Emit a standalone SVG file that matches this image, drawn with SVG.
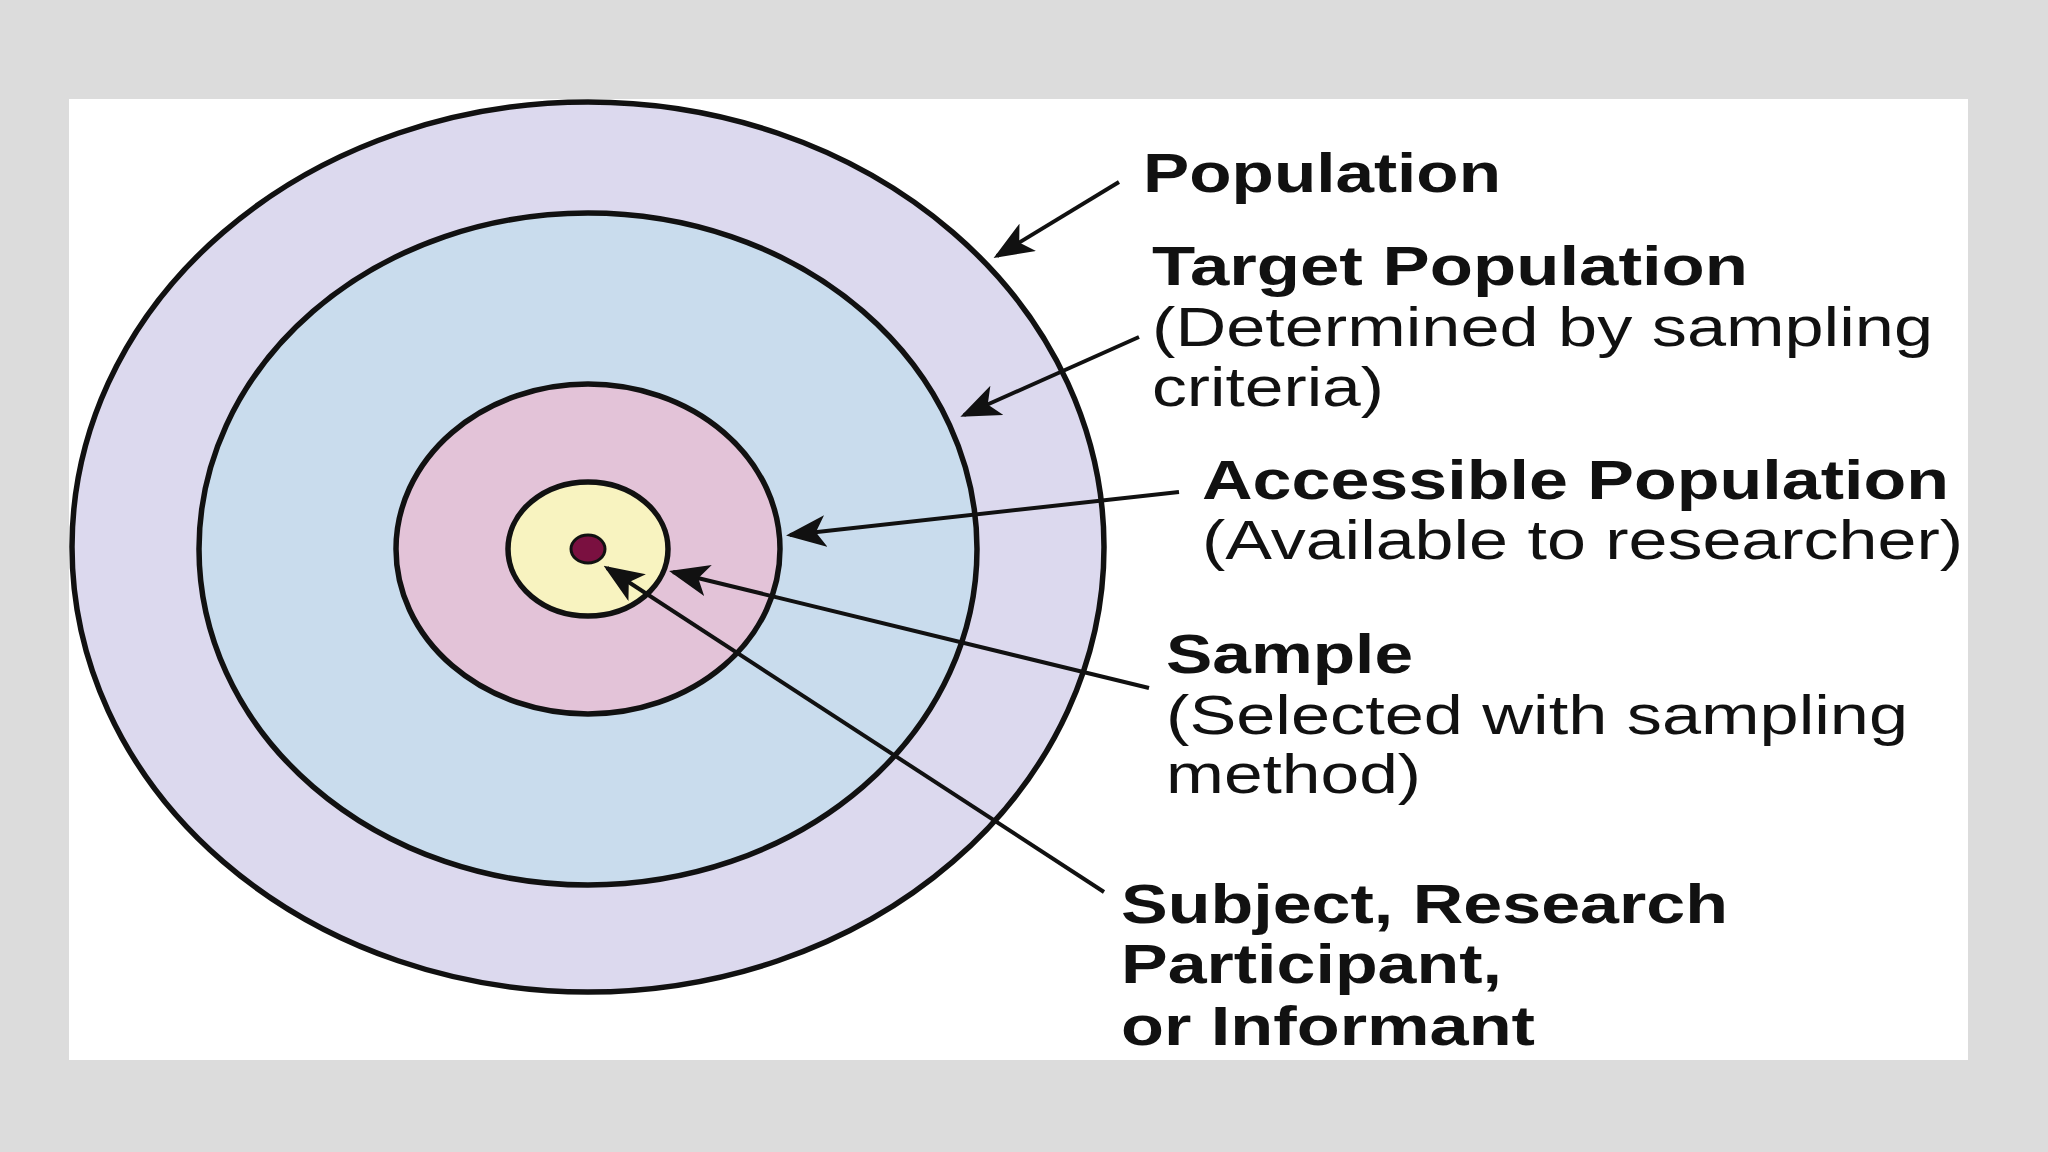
<svg xmlns="http://www.w3.org/2000/svg" width="2048" height="1152" viewBox="0 0 2048 1152">
<style>
.ring{stroke:#111;stroke-width:5.5}
.b{font-family:"Liberation Sans",Arial,sans-serif;font-weight:bold;font-size:56px;fill:#111}
.n{font-family:"Liberation Sans",Arial,sans-serif;font-size:56px;fill:#111}
.c{stroke:#111;stroke-width:4;fill:none;marker-end:url(#ah)}
</style>
<defs><marker id="ah" markerWidth="10" markerHeight="8" refX="9" refY="4" orient="auto" markerUnits="strokeWidth"><path d="M0,0 L10,4 L0,8 L2.5,4 Z" fill="#111"/></marker></defs>
<rect width="2048" height="1152" fill="#dcdcdc"/>
<rect x="69" y="99" width="1899" height="961" fill="#ffffff"/>
<g id="population"><ellipse class="ring" cx="588" cy="547" rx="516" ry="445" fill="#dcd9ee"/></g>
<g id="target"><ellipse class="ring" cx="588" cy="549" rx="389" ry="336" fill="#c9dced"/></g>
<g id="accessible"><ellipse class="ring" cx="588" cy="549" rx="192" ry="165" fill="#e3c3d8"/></g>
<g id="sample"><ellipse class="ring" cx="588" cy="549" rx="80" ry="67" fill="#f8f3c0"/></g>
<g id="subject"><ellipse cx="588" cy="549" rx="17" ry="14" fill="#7a1040" stroke="#111" stroke-width="3"/></g>
<g id="labels" lengthAdjust="spacingAndGlyphs">
<text class="b" x="1143" y="192" textLength="358" lengthAdjust="spacingAndGlyphs">Population</text>
<text class="b" x="1152" y="285" textLength="596" lengthAdjust="spacingAndGlyphs">Target Population</text>
<text class="n" x="1152" y="346" textLength="781" lengthAdjust="spacingAndGlyphs">(Determined by sampling</text>
<text class="n" x="1152" y="406" textLength="232" lengthAdjust="spacingAndGlyphs">criteria)</text>
<text class="b" x="1202" y="499" textLength="747" lengthAdjust="spacingAndGlyphs">Accessible Population</text>
<text class="n" x="1202" y="559" textLength="761" lengthAdjust="spacingAndGlyphs">(Available to researcher)</text>
<text class="b" x="1166" y="673" textLength="247" lengthAdjust="spacingAndGlyphs">Sample</text>
<text class="n" x="1166" y="734" textLength="742" lengthAdjust="spacingAndGlyphs">(Selected with sampling</text>
<text class="n" x="1166" y="793" textLength="255" lengthAdjust="spacingAndGlyphs">method)</text>
<text class="b" x="1121" y="923" textLength="607" lengthAdjust="spacingAndGlyphs">Subject, Research</text>
<text class="b" x="1121" y="983" textLength="381" lengthAdjust="spacingAndGlyphs">Participant,</text>
<text class="b" x="1121" y="1045" textLength="414" lengthAdjust="spacingAndGlyphs">or Informant</text>
</g>
<g id="connectors">
<line class="c" x1="1119" y1="182" x2="997" y2="256"/>
<line class="c" x1="1139" y1="337" x2="964" y2="415"/>
<line class="c" x1="1179" y1="492" x2="790" y2="535"/>
<line class="c" x1="1149" y1="688" x2="673" y2="572"/>
<line class="c" x1="1104" y1="892" x2="607" y2="568"/>
</g>
</svg>
